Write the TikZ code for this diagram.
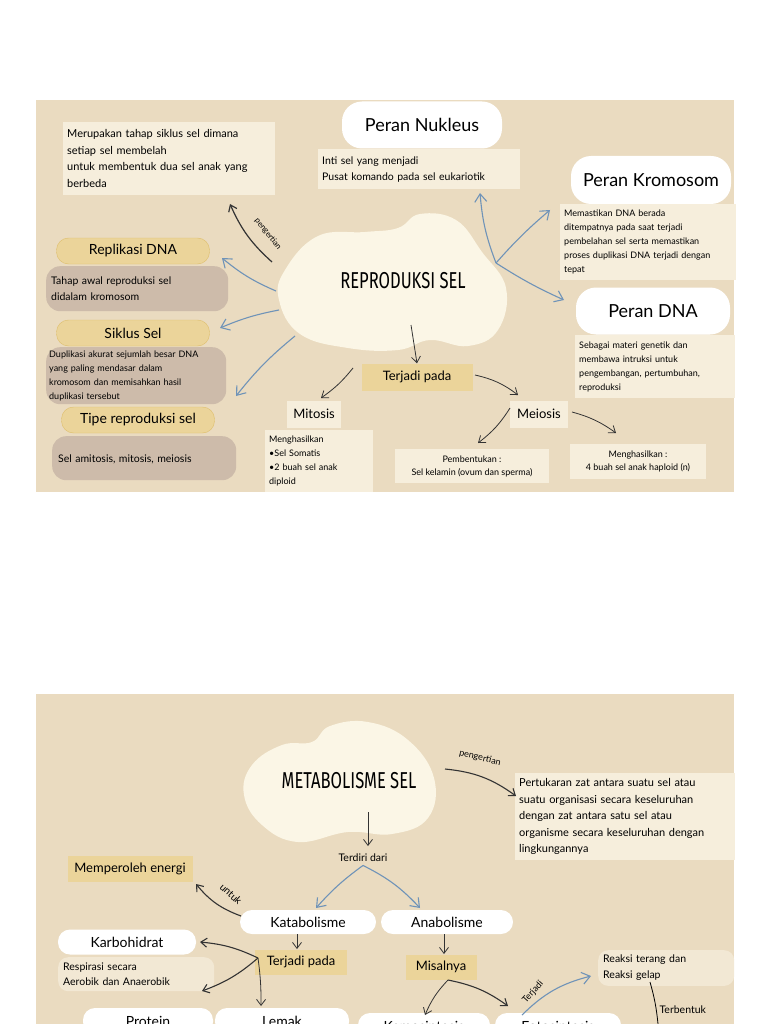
\documentclass[tikz,border=0pt]{standalone}
\usepackage{fontspec}
\usepackage{graphicx}
\setmainfont{Lato}
\newfontfamily\ttl{Fira Sans}
\usetikzlibrary{arrows.meta}
\definecolor{panel}{HTML}{EADBC0}
\definecolor{cream}{HTML}{F6EEDC}
\definecolor{yel}{HTML}{EBD49A}
\definecolor{yelb}{HTML}{DEBE6A}
\definecolor{mauve}{HTML}{CDBBAA}
\definecolor{blob}{HTML}{FBF6E6}
\definecolor{arrb}{HTML}{6F93B8}
\tikzset{
 box/.style={inner sep=4pt,align=left,anchor=north west,font=\fontsize{10}{15}\selectfont},
 cb/.style={box,fill=cream},
 mb/.style={box,fill=mauve,rounded corners=14pt},
 yb/.style={fill=yel,inner sep=4pt,font=\fontsize{13}{14}\selectfont},
 yp/.style={fill=yel,draw=yelb,rounded corners=12pt,font=\fontsize{14}{15}\selectfont},
 wp/.style={fill=white,rounded corners=12pt,font=\fontsize{14}{15}\selectfont},
 wh/.style={fill=white,rounded corners=20pt,font=\fontsize{18}{19}\selectfont},
 ttlnode/.style={font=\ttl\fontsize{23}{24}\selectfont},
 ba/.style={draw=arrb,line width=1.6pt,-{Straight Barb[length=8pt,width=12pt]}},
 ka/.style={draw=black!80,line width=0.8pt,-{Straight Barb[length=6pt,width=9pt]}},
}
\begin{document}
\begin{tikzpicture}[x=1pt,y=-1pt]
\useasboundingbox (0,0) rectangle (768,1024);
\clip (0,0) rectangle (768,1024);
\fill[white] (0,0) rectangle (768,1024);
\fill[panel] (36,100) rectangle (734,492);
\fill[panel] (36,694) rectangle (734,1030);
% ===== top panel
\fill[blob] plot[smooth cycle,tension=0.7] coordinates {(285,270)(318,236)(365,232)(398,228)(420,214)(456,220)(482,252)(506,288)(498,330)(468,346)(430,340)(398,350)(348,348)(300,334)(279,300)};
\node[ttlnode] (rs) at (403,281) {\scalebox{0.72}[1]{REPRODUKSI SEL}};
\node[cb,minimum width=211pt,minimum height=73pt,text width=204pt,font=\fontsize{11}{16.5}\selectfont] (def) at (63,122) {Merupakan tahap siklus sel dimana\\setiap sel membelah\\untuk membentuk dua sel anak yang\\berbeda};
\node[yp,minimum width=153pt,minimum height=26pt] (rep) at (133,251) {Replikasi DNA};
\node[mb,minimum width=182pt,minimum height=45pt,text width=172pt,font=\fontsize{10.5}{16}\selectfont] (repd) at (46,266) {Tahap awal reproduksi sel\\didalam kromosom};
\node[yp,minimum width=153pt,minimum height=26pt] (sik) at (133,333) {Siklus Sel};
\node[mb,minimum width=180pt,minimum height=57pt,text width=174pt,inner sep=3pt,font=\fontsize{9}{14}\selectfont] (sikd) at (46,347) {Duplikasi akurat sejumlah besar DNA\\yang paling mendasar dalam\\kromosom dan memisahkan hasil\\duplikasi tersebut};
\node[yp,minimum width=153pt,minimum height=26pt] (tip) at (138,420) {Tipe reproduksi sel};
\node[mb,minimum width=182pt,minimum height=44pt,text width=172pt,inner sep=6pt,font=\fontsize{10.5}{14}\selectfont,align=left] (tipd) at (52,436) {\\[-4pt]Sel amitosis, mitosis, meiosis};
\node[wh,minimum width=160pt,minimum height=47pt] (pn) at (422,125) {Peran Nukleus};
\node[cb,minimum width=202pt,minimum height=40pt,text width=194pt,font=\fontsize{10.5}{16}\selectfont] (pnd) at (318,149) {Inti sel yang menjadi\\Pusat komando pada sel eukariotik};
\node[wh,minimum width=160pt,minimum height=48pt] (pk) at (651,180) {Peran Kromosom};
\node[cb,minimum width=174pt,minimum height=76pt,text width=168pt,font=\fontsize{9}{14}\selectfont] (pkd) at (560,204) {Memastikan DNA berada\\ditempatnya pada saat terjadi\\pembelahan sel serta memastikan\\proses duplikasi DNA terjadi dengan\\tepat};
\node[wh,minimum width=154pt,minimum height=47pt] (pd) at (653,311) {Peran DNA};
\node[cb,minimum width=159pt,minimum height=63pt,text width=152pt,font=\fontsize{9}{14}\selectfont] (pdd) at (575,335) {Sebagai materi genetik dan\\membawa intruksi untuk\\pengembangan, pertumbuhan,\\reproduksi};
\node[yb,minimum width=111pt,minimum height=27pt] (tp) at (417,377) {Terjadi pada};
\node[fill=cream,minimum width=54pt,minimum height=27pt,font=\fontsize{13}{14}\selectfont] (mit) at (314,414) {Mitosis};
\node[cb,minimum width=108pt,minimum height=62pt,text width=100pt,font=\fontsize{9}{14}\selectfont] (mitd) at (265,430) {Menghasilkan\\•Sel Somatis\\•2 buah sel anak\\diploid};
\node[fill=cream,minimum width=58pt,minimum height=27pt,font=\fontsize{13}{14}\selectfont] (mei) at (539,414) {Meiosis};
\node[fill=cream,minimum width=154pt,minimum height=34pt,align=center,font=\fontsize{9}{13}\selectfont] (pem) at (472,466) {Pembentukan :\\Sel kelamin (ovum dan sperma)};
\node[fill=cream,minimum width=136pt,minimum height=35pt,align=center,font=\fontsize{9}{13}\selectfont] (men) at (638,461) {Menghasilkan :\\4 buah sel anak haploid (n)};
\coordinate (c1) at (272,262);
\draw[ka,line width=1.2pt] (c1) to[bend left=12] (230,204);
\node[rotate=-52,font=\fontsize{8}{9}\selectfont,inner sep=0pt] (lp) at (268,234) {pengertian};
\draw[ba,line width=1.1pt] (276,291) to[bend left=8] (222,258);
\draw[ba,line width=1.1pt] (279,310) to[bend right=6] (220,328);
\draw[ba,line width=1.1pt] (295,336) to[bend right=6] (236,396);
\coordinate (hub) at (496,263);
\draw[ba,line width=1.1pt] (hub) to[bend left=8] (480,193);
\draw[ba,line width=1.1pt] (hub) to[bend left=4] (550,210);
\draw[ba,line width=1.1pt] (hub) to[bend right=4] (564,300);
\draw[ka] (411,325) -- (tp.north);
\draw[ka] (353,368) to[bend left=8] (321,398);
\draw[ka] (475,375) to[bend left=12] (518,395);
\draw[ka] (510,408) to[bend left=10] (478,443);
\draw[ka] (572,412) to[bend left=10] (616,433);
% ===== bottom panel
\fill[blob] plot[smooth cycle,tension=0.7] coordinates {(252,765)(282,745)(312,742)(330,726)(368,722)(408,740)(434,778)(428,818)(392,834)(348,832)(298,842)(262,825)(244,795)};
\node[ttlnode] (ms) at (349,781) {\scalebox{0.72}[1]{METABOLISME SEL}};
\node[cb,minimum width=219pt,minimum height=87pt,text width=212pt,font=\fontsize{11}{16.5}\selectfont] (msd) at (515,773) {Pertukaran zat antara suatu sel atau\\suatu organisasi secara keseluruhan\\dengan zat antara satu sel atau\\organisme secara keseluruhan dengan\\lingkungannya};
\node[rotate=-14,font=\fontsize{9}{10}\selectfont,inner sep=0pt] (lp2) at (480,758) {pengertian};
\draw[ka,line width=1.1pt] (445,769) to[bend left=15] (516,796);
\draw[ka] (368,812) -- (368,846);
\node[font=\fontsize{10.5}{11}\selectfont] (td) at (363,858) {Terdiri dari};
\node[wp,minimum width=136pt,minimum height=24pt] (kat) at (308,922) {Katabolisme};
\node[wp,minimum width=132pt,minimum height=24pt] (ana) at (447,922) {Anabolisme};
\draw[ba,line width=1.1pt] (td.south) to[bend right=6] (316,908);
\draw[ba,line width=1.1pt] (td.south) to[bend left=10] (420,908);
\node[yb,minimum width=125pt,minimum height=26pt] (mpe) at (130,869) {Memperoleh energi};
\node[rotate=-42,font=\fontsize{10}{11}\selectfont,inner sep=0pt] (lu) at (231,894) {untuk};
\draw[ka,line width=1.1pt] (241,916) to[bend left=15] (196,884);
\node[wp,minimum width=138pt,minimum height=25pt] (kar) at (127,942) {Karbohidrat};
\node[yb,minimum width=92pt,minimum height=25pt] (tp2) at (301,962) {Terjadi pada};
\node[yb,minimum width=71pt,minimum height=25pt] (mis) at (441,967) {Misalnya};
\draw[ka] (297,934) -- (297,949);
\draw[ka] (444,934) -- (444,954);
\node[cb,fill=cream!70!panel,rounded corners=10pt,minimum width=156pt,minimum height=34pt,text width=146pt,inner sep=5pt,font=\fontsize{10.5}{16}\selectfont] (resp) at (58,957) {Respirasi secara\\Aerobik dan Anaerobik};
\coordinate (tpc) at (258,958);
\draw[ka,line width=1.1pt] (tpc) to[bend right=10] (200,942);
\draw[ka,line width=1.1pt] (tpc) to[bend left=10] (202,991);
\draw[ka] (tpc) to[bend left=4] (261,1006);
\node[wp,minimum width=130pt,minimum height=26pt] (pro) at (148,1021) {Protein};
\node[wp,minimum width=134pt,minimum height=26pt] (lem) at (282,1021) {Lemak};
\node[wp,minimum width=132pt,minimum height=26pt] (kem) at (424,1026) {Kemosintesis};
\node[wp,minimum width=126pt,minimum height=26pt] (fot) at (558,1026) {Fotosintesis};
\draw[ka] (448,980) to[bend right=10] (425,1015);
\draw[ka,line width=1.1pt] (448,980) to[bend left=12] (508,1006);
\node[rotate=48,font=\fontsize{9}{10}\selectfont,inner sep=0pt] (lt) at (533,992) {Terjadi};
\node[cb,fill=cream!70!panel,rounded corners=10pt,minimum width=136pt,minimum height=33pt,text width=126pt,inner sep=5pt,font=\fontsize{10.5}{16}\selectfont] (rt) at (598,950) {Reaksi terang dan\\Reaksi gelap};
\draw[ba,line width=1.1pt] (522,1015) to[bend left=15] (591,976);
\draw[black,line width=0.8pt] (650,982) to[bend left=5] (658,1024);
\node[font=\fontsize{10.5}{11}\selectfont,anchor=west] (tb) at (656,1010) {Terbentuk};
\end{tikzpicture}
\end{document}
